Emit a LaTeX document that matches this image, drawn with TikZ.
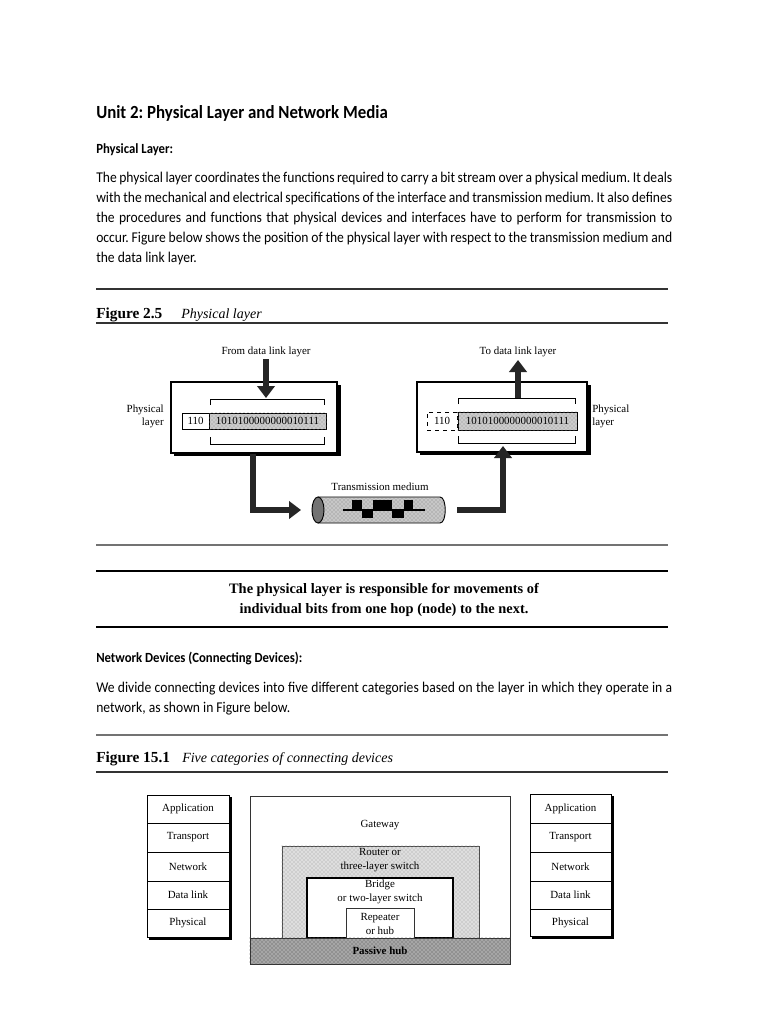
\documentclass[tikz,border=0pt]{standalone}
\usepackage{fontspec}
\setmainfont{Carlito}[FakeStretch=0.91]
\newfontfamily\tms{Liberation Serif}
\usetikzlibrary{arrows.meta,fit,patterns}
\frenchspacing
\newcommand\jline[1]{\hbox to 432pt{\spaceskip=0.22em plus 0.4em minus 0.12em #1}}
\begin{document}
\begin{tikzpicture}[x=0.75pt,y=-0.75pt,
  body/.style={anchor=base west, inner sep=0pt, font=\fontsize{11.2}{13}\selectfont},
  head/.style={anchor=base west, inner sep=0pt, font=\bfseries\fontsize{10.5}{12}\selectfont},
  figtxt/.style={inner sep=0pt, font=\tms\fontsize{8.2}{9.8}\selectfont},
  capb/.style={anchor=base west, inner sep=0pt, font=\tms\bfseries\fontsize{11.5}{13}\selectfont},
  capi/.style={anchor=base west, inner sep=0pt, font=\tms\itshape\fontsize{10.5}{13}\selectfont},
  rulegray/.style={draw=black!55, line width=0.9pt},
  ruledark/.style={draw=black!80, line width=1.4pt},
  rulethick/.style={draw=black, line width=2.2pt},
  bigarrow/.style={draw=black!85, line width=4.8pt, -{Triangle[width=13pt,length=9pt]}},
  frame/.style={draw=black, line width=0.9pt, inner sep=0pt},
  thinbox/.style={draw=black, line width=0.6pt, inner sep=0pt},
  bitsbox/.style={draw=black, line width=0.7pt, fill=black!20, inner sep=0pt},
  layerbox/.style={draw=black, line width=0.6pt, inner sep=0pt}
]
\useasboundingbox (0,0) rectangle (768,1024);
\fill[white] (0,0) rectangle (768,1024);

% ---------------- text ----------------
\node[anchor=base west, inner sep=0pt, font=\bfseries\fontsize{13.9}{16}\selectfont] (title) at (96,118) {Unit 2: Physical Layer and Network Media};
\node[head] (h1) at (96,153) {Physical Layer:};
\node[body] (p1) at (96,182) {\jline{The physical layer coordinates the functions required to carry a bit stream over a physical medium. It deals}};
\node[body] (p2) at (96,202) {\jline{with the mechanical and electrical specifications of the interface and transmission medium. It also defines}};
\node[body] (p3) at (96,222) {\jline{the procedures and functions that physical devices and interfaces have to perform for transmission to}};
\node[body] (p4) at (96,242) {\jline{occur. Figure below shows the position of the physical layer with respect to the transmission medium and}};
\node[body] (p5) at (96,262) {the data link layer.};

% ---------------- Figure 2.5 ----------------
\draw[ruledark] (96,289) -- (668,289);
\node[capb] (f25) at (96,318) {Figure 2.5};
\node[capi] (f25t) at (181,318) {Physical layer};
\draw[ruledark] (96,323) -- (668,323);

\node[figtxt] (fromdl) at (266,352) {From data link layer};
\node[figtxt] (todl) at (518,352) {To data link layer};

% left panel
\draw[black, line width=1.8pt] (339.5,385) -- (339.5,455) -- (174,455);
\node[frame, fill=white, fit={(171,382) (337,453)}] (lbox) {};
\draw[line width=0.6pt] (210,405) -- (210,399) -- (324,399) -- (324,405);
\draw[line width=0.6pt] (210,437) -- (210,444) -- (324,444) -- (324,437);
\node[thinbox, fit={(182,413) (209,429)}] (l110) {};
\node[figtxt] at (l110.center) {110};
\node[bitsbox, fit={(209,413) (326,429)}] (lbits) {};
\fill[pattern=crosshatch dots, pattern color=black!45] (lbits.south west) rectangle (lbits.north east);
\node[figtxt] at (lbits.center) {1010100000000010111};
\node[figtxt, align=right, anchor=east] (lphys) at (164,416) {Physical\\layer};

% right panel
\draw[black, line width=1.8pt] (589.5,385) -- (589.5,454) -- (420,454);
\node[frame, fill=white, fit={(417,382) (587,452)}] (rbox) {};
\draw[line width=0.6pt] (458,404) -- (458,398) -- (575,398) -- (575,404);
\draw[line width=0.6pt] (458,436) -- (458,443) -- (575,443) -- (575,436);
\node[thinbox, dashed, fit={(427,412) (457,430)}] (r110) {};
\node[figtxt] at (r110.center) {110};
\node[bitsbox, fit={(458,412) (577,430)}] (rbits) {};
\fill[pattern=crosshatch dots, pattern color=black!45] (rbits.south west) rectangle (rbits.north east);
\node[figtxt] at (rbits.center) {1010100000000010111};
\node[figtxt, align=left, anchor=west] (rphys) at (592,416) {Physical\\layer};

% transmission medium
\node[figtxt] (tmlabel) at (380,487) {Transmission medium};
\node[inner sep=0pt, fit={(312,497) (445,523)}] (medium) {};
\draw[fill=black!22, line width=0.7pt] (318,497) -- (440,497) .. controls (447,497) and (447,523) .. (440,523) -- (318,523);
\fill[pattern=crosshatch dots, pattern color=black!50] (318,498) -- (440,498) .. controls (446,498) and (446,522) .. (440,522) -- (318,522) -- cycle;
\draw[fill=black!55, line width=0.7pt] (318,510) ellipse [x radius=4.5pt, y radius=9.75pt];
\fill[black] (352,500) rectangle (362,510);
\fill[black] (373,500) rectangle (392,510);
\fill[black] (404,500) rectangle (413,510);
\fill[black] (362,510) rectangle (373,518);
\fill[black] (392,510) rectangle (404,518);
\draw[black, line width=1.2pt] (343,510) -- (425,510);

% arrows
\coordinate (dtop) at (266,359);
\coordinate (dtip) at (266,398);
\coordinate (utail) at (518,398);
\coordinate (utop) at (518,360);
\coordinate (lbend) at (253,510);
\coordinate (rbend) at (503,510);
\coordinate (rtip) at (503,446);
\draw[bigarrow] (dtop) -- (dtip);
\draw[bigarrow] (utail) -- (utop);
\draw[bigarrow] (lbox.south -| lbend) -- (lbend) -- (medium.west -| 301,0);
\draw[bigarrow] (medium.east -| 457,0) -- (rbend) -- (rtip);

\draw[rulegray] (96,545) -- (668,545);
\draw[rulethick] (96,571) -- (668,571);
\node[inner sep=0pt, align=center, font=\tms\bfseries\fontsize{10.8}{15}\selectfont] (stmt) at (384,600) {The physical layer is responsible for movements of\\individual bits from one hop (node) to the next.};
\draw[rulethick] (96,627) -- (668,627);

% ---------------- second section ----------------
\node[head] (h2) at (96,662) {Network Devices (Connecting Devices):};
\node[body] (q1) at (96,692) {\jline{We divide connecting devices into five different categories based on the layer in which they operate in a}};
\node[body] (q2) at (96,712) {network, as shown in Figure below.};

\draw[rulegray] (96,735) -- (668,735);
\node[capb] (f151) at (96,762) {Figure 15.1};
\node[capi] (f151t) at (182,762) {Five categories of connecting devices};
\draw[ruledark, line width=1pt] (96,772) -- (668,772);

% left stack
\draw[black, line width=1.6pt] (230.5,797) -- (230.5,938.5) -- (149,938.5);
\node[layerbox, fill=white, fit={(147,795) (229,823)}] (la) {};
\node[layerbox, fit={(147,823) (229,852)}] (lt) {};
\node[layerbox, fit={(147,852) (229,881)}] (ln) {};
\node[layerbox, fit={(147,881) (229,909)}] (ld) {};
\node[layerbox, fit={(147,909) (229,937)}] (lp) {};
\node[figtxt] at (la.center) {Application};
\node[figtxt] at (lt.center) {Transport};
\node[figtxt] at (ln.center) {Network};
\node[figtxt] at (ld.center) {Data link};
\node[figtxt] at (lp.center) {Physical};

% right stack
\draw[black, line width=1.6pt] (612.5,796) -- (612.5,937.5) -- (532,937.5);
\node[layerbox, fit={(530,794) (611,823)}] (ra) {};
\node[layerbox, fit={(530,823) (611,852)}] (rt) {};
\node[layerbox, fit={(530,852) (611,881)}] (rn) {};
\node[layerbox, fit={(530,881) (611,909)}] (rd) {};
\node[layerbox, fit={(530,909) (611,936)}] (rp) {};
\node[figtxt] at (ra.center) {Application};
\node[figtxt] at (rt.center) {Transport};
\node[figtxt] at (rn.center) {Network};
\node[figtxt] at (rd.center) {Data link};
\node[figtxt] at (rp.center) {Physical};

% middle devices
\node[draw=black!80, line width=0.7pt, inner sep=0pt, fit={(250,796) (510,964)}] (gw) {};
\node[draw=black!70, line width=0.6pt, fill=black!13, inner sep=0pt, fit={(282,846) (479,938)}] (router) {};
\fill[pattern=crosshatch dots, pattern color=black!40] (router.south west) rectangle (router.north east);
\node[draw=black, line width=1.1pt, fill=white, inner sep=0pt, fit={(307,878) (453,938)}] (bridge) {};
\node[draw=black!80, line width=0.6pt, fill=white, inner sep=0pt, fit={(346,908) (414,938)}] (rep) {};
\node[draw=black!80, line width=0.7pt, fill=black!35, inner sep=0pt, fit={(250,938) (510,964)}] (phub) {};
\fill[pattern=crosshatch dots, pattern color=black!70] (phub.south west) rectangle (phub.north east);
\node[figtxt] (gwt) at (380,825) {Gateway};
\node[figtxt, align=center, font=\tms\fontsize{8.2}{10.5}\selectfont] (routert) at (380,860) {Router or\\three-layer switch};
\node[figtxt, align=center, font=\tms\fontsize{8.2}{10.5}\selectfont] (bridget) at (380,892) {Bridge\\or two-layer switch};
\node[figtxt, align=center, font=\tms\fontsize{8.2}{10.5}\selectfont] (rept) at (380,924) {Repeater\\or hub};
\node[figtxt, font=\tms\bfseries\fontsize{8.2}{10}\selectfont] (phubt) at (380,951) {Passive hub};
\end{tikzpicture}
\end{document}
